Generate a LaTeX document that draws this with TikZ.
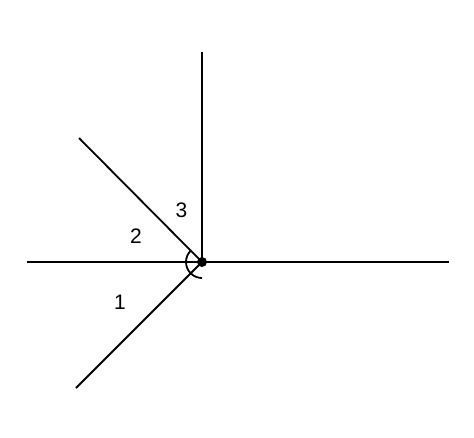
\documentclass[tikz,border=0pt]{standalone}
\usepackage{fontspec}
\setmainfont{Liberation Sans}
\begin{document}
\begin{tikzpicture}[x=1pt,y=-1pt,line width=1.8pt,
  lbl/.style={font=\fontsize{21}{24}\selectfont,inner sep=0pt}]
\useasboundingbox (0,0) rectangle (474,437);
\coordinate (O) at (202,262);
\coordinate (L) at (27,262);
\coordinate (R) at (449,262);
\coordinate (T) at (202,52);
\coordinate (UL) at (79,138);
\coordinate (LL) at (76,388);
\draw (L) -- (R);
\draw (O) -- (T);
\draw (O) -- (UL);
\draw (O) -- (LL);
\draw ([shift={(90:16)}]O) arc[start angle=90,end angle=225,radius=16];
\fill (O) circle[radius=5];
\node[lbl] (n1) at (120,302) {1};
\node[lbl] (n2) at (136,236) {2};
\node[lbl] (n3) at (181.5,210) {3};
\end{tikzpicture}
\end{document}
